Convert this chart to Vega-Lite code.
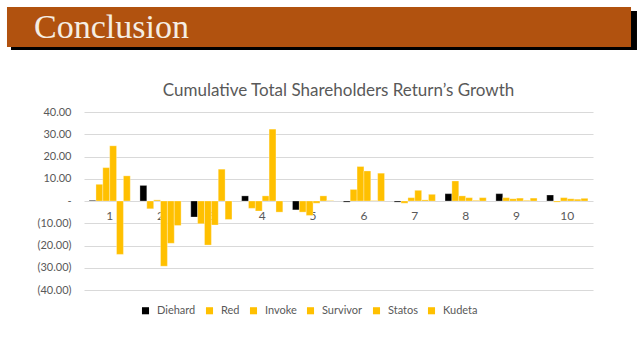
{
  "$schema": "https://vega.github.io/schema/vega-lite/v6.json",
  "padding": {"left": 6, "top": 7, "right": 2, "bottom": 4},
  "background": "white",
  "config": {"view": {"stroke": null}, "font": "Lato"},
  "spacing": 32,
  "vconcat": [
    {
      "width": 509,
      "height": 40,
      "data": {"values": [{"t": "Conclusion"}]},
      "layer": [
        {
          "mark": {"type": "rect", "color": "#000000"},
          "encoding": {
            "x": {"datum": -0.1434, "type": "quantitative", "scale": {"domain": [0, 1], "nice": false, "zero": false}, "axis": null},
            "x2": {"datum": 1.0864},
            "y": {"datum": -0.075, "type": "quantitative", "scale": {"domain": [0, 1], "nice": false, "zero": false}, "axis": null},
            "y2": {"datum": 0.9}
          }
        },
        {
          "mark": {"type": "rect", "color": "#B1520F"},
          "encoding": {
            "x": {"datum": -0.1513, "type": "quantitative"},
            "x2": {"datum": 1.0747},
            "y": {"datum": 0, "type": "quantitative"},
            "y2": {"datum": 1}
          }
        },
        {
          "mark": {"type": "text", "align": "left", "baseline": "middle", "dy": 1, "font": "Liberation Serif", "fontSize": 34, "color": "#F5EDE3"},
          "encoding": {
            "text": {"field": "t"},
            "x": {"datum": -0.0982, "type": "quantitative"},
            "y": {"datum": 0.5, "type": "quantitative"}
          }
        }
      ]
    },
    {
      "width": 509,
      "height": 178,
      "title": {"text": "Cumulative Total Shareholders Return’s Growth", "fontSize": 17, "fontWeight": "normal", "color": "#595959", "font": "Lato", "offset": 6},
      "data": {"values": [
        {"g": "1", "s": "Diehard", "v": 0.3}, {"g": "1", "s": "Red", "v": 7.5}, {"g": "1", "s": "Invoke", "v": 15.0}, {"g": "1", "s": "Survivor", "v": 24.8}, {"g": "1", "s": "Statos", "v": -24.0}, {"g": "1", "s": "Kudeta", "v": 11.3},
        {"g": "2", "s": "Diehard", "v": 7.0}, {"g": "2", "s": "Red", "v": -3.5}, {"g": "2", "s": "Invoke", "v": 0.5}, {"g": "2", "s": "Survivor", "v": -29.3}, {"g": "2", "s": "Statos", "v": -19.0}, {"g": "2", "s": "Kudeta", "v": -11.0},
        {"g": "3", "s": "Diehard", "v": -7.2}, {"g": "3", "s": "Red", "v": -10.2}, {"g": "3", "s": "Invoke", "v": -19.8}, {"g": "3", "s": "Survivor", "v": -10.8}, {"g": "3", "s": "Statos", "v": 14.3}, {"g": "3", "s": "Kudeta", "v": -8.3},
        {"g": "4", "s": "Diehard", "v": 2.3}, {"g": "4", "s": "Red", "v": -3.3}, {"g": "4", "s": "Invoke", "v": -4.5}, {"g": "4", "s": "Survivor", "v": 2.3}, {"g": "4", "s": "Statos", "v": 32.3}, {"g": "4", "s": "Kudeta", "v": -5.0},
        {"g": "5", "s": "Diehard", "v": -4.0}, {"g": "5", "s": "Red", "v": -5.0}, {"g": "5", "s": "Invoke", "v": -6.5}, {"g": "5", "s": "Survivor", "v": -1.0}, {"g": "5", "s": "Statos", "v": 2.3}, {"g": "5", "s": "Kudeta", "v": 0.2},
        {"g": "6", "s": "Diehard", "v": -0.5}, {"g": "6", "s": "Red", "v": 5.2}, {"g": "6", "s": "Invoke", "v": 15.5}, {"g": "6", "s": "Survivor", "v": 13.5}, {"g": "6", "s": "Statos", "v": 0.2}, {"g": "6", "s": "Kudeta", "v": 12.5},
        {"g": "7", "s": "Diehard", "v": -0.5}, {"g": "7", "s": "Red", "v": -1.0}, {"g": "7", "s": "Invoke", "v": 1.5}, {"g": "7", "s": "Survivor", "v": 4.8}, {"g": "7", "s": "Statos", "v": 0.5}, {"g": "7", "s": "Kudeta", "v": 3.0},
        {"g": "8", "s": "Diehard", "v": 3.3}, {"g": "8", "s": "Red", "v": 9.0}, {"g": "8", "s": "Invoke", "v": 2.3}, {"g": "8", "s": "Survivor", "v": 1.5}, {"g": "8", "s": "Statos", "v": 0.3}, {"g": "8", "s": "Kudeta", "v": 1.5},
        {"g": "9", "s": "Diehard", "v": 3.3}, {"g": "9", "s": "Red", "v": 1.5}, {"g": "9", "s": "Invoke", "v": 1.0}, {"g": "9", "s": "Survivor", "v": 1.3}, {"g": "9", "s": "Statos", "v": 0.3}, {"g": "9", "s": "Kudeta", "v": 1.3},
        {"g": "10", "s": "Diehard", "v": 2.7}, {"g": "10", "s": "Red", "v": -0.5}, {"g": "10", "s": "Invoke", "v": 1.5}, {"g": "10", "s": "Survivor", "v": 1.0}, {"g": "10", "s": "Statos", "v": 0.8}, {"g": "10", "s": "Kudeta", "v": 1.2}
      ]},
      "mark": {"type": "bar", "stroke": "white", "strokeWidth": 0.3},
      "encoding": {
        "x": {
          "field": "g", "type": "ordinal", "sort": ["1","2","3","4","5","6","7","8","9","10"],
          "scale": {"paddingInner": 0.19, "paddingOuter": 0.1},
          "axis": {"title": null, "labelAngle": 0, "domain": false, "ticks": false, "grid": false, "offset": -89, "labelPadding": 9, "labelFontSize": 12, "labelColor": "#595959", "labelFont": "Lato"}
        },
        "xOffset": {"field": "s", "type": "nominal", "sort": ["Diehard","Red","Invoke","Survivor","Statos","Kudeta"], "scale": {"paddingInner": 0, "paddingOuter": 0}},
        "y": {
          "field": "v", "type": "quantitative",
          "scale": {"domain": [-40, 40], "nice": false},
          "axis": {"title": null, "values": [-40,-30,-20,-10,0,10,20,30,40], "domain": false, "ticks": false, "gridColor": "#D9D9D9", "gridWidth": 1, "labelColor": "#595959", "labelFontSize": 11, "labelFont": "Lato", "labelPadding": 13, "minExtent": 77,
            "labelExpr": "datum.value > 0 ? format(datum.value, '.2f') : (datum.value < 0 ? '(' + format(-datum.value, '.2f') + ')' : '-')"}
        },
        "color": {
          "field": "s", "type": "nominal",
          "sort": ["Diehard","Red","Invoke","Survivor","Statos","Kudeta"],
          "scale": {"domain": ["Diehard","Red","Invoke","Survivor","Statos","Kudeta"], "range": ["#000000","#FFC000","#FFC000","#FFC000","#FFC000","#FFC000"]},
          "legend": {"title": null, "orient": "none", "legendX": 56, "legendY": 298, "direction": "horizontal", "symbolType": "square", "symbolSize": 50, "symbolStrokeWidth": 0, "labelFontSize": 11, "labelColor": "#595959", "labelFont": "Lato", "labelOffset": 6, "columnPadding": 8}
        }
      }
    }
  ]
}
